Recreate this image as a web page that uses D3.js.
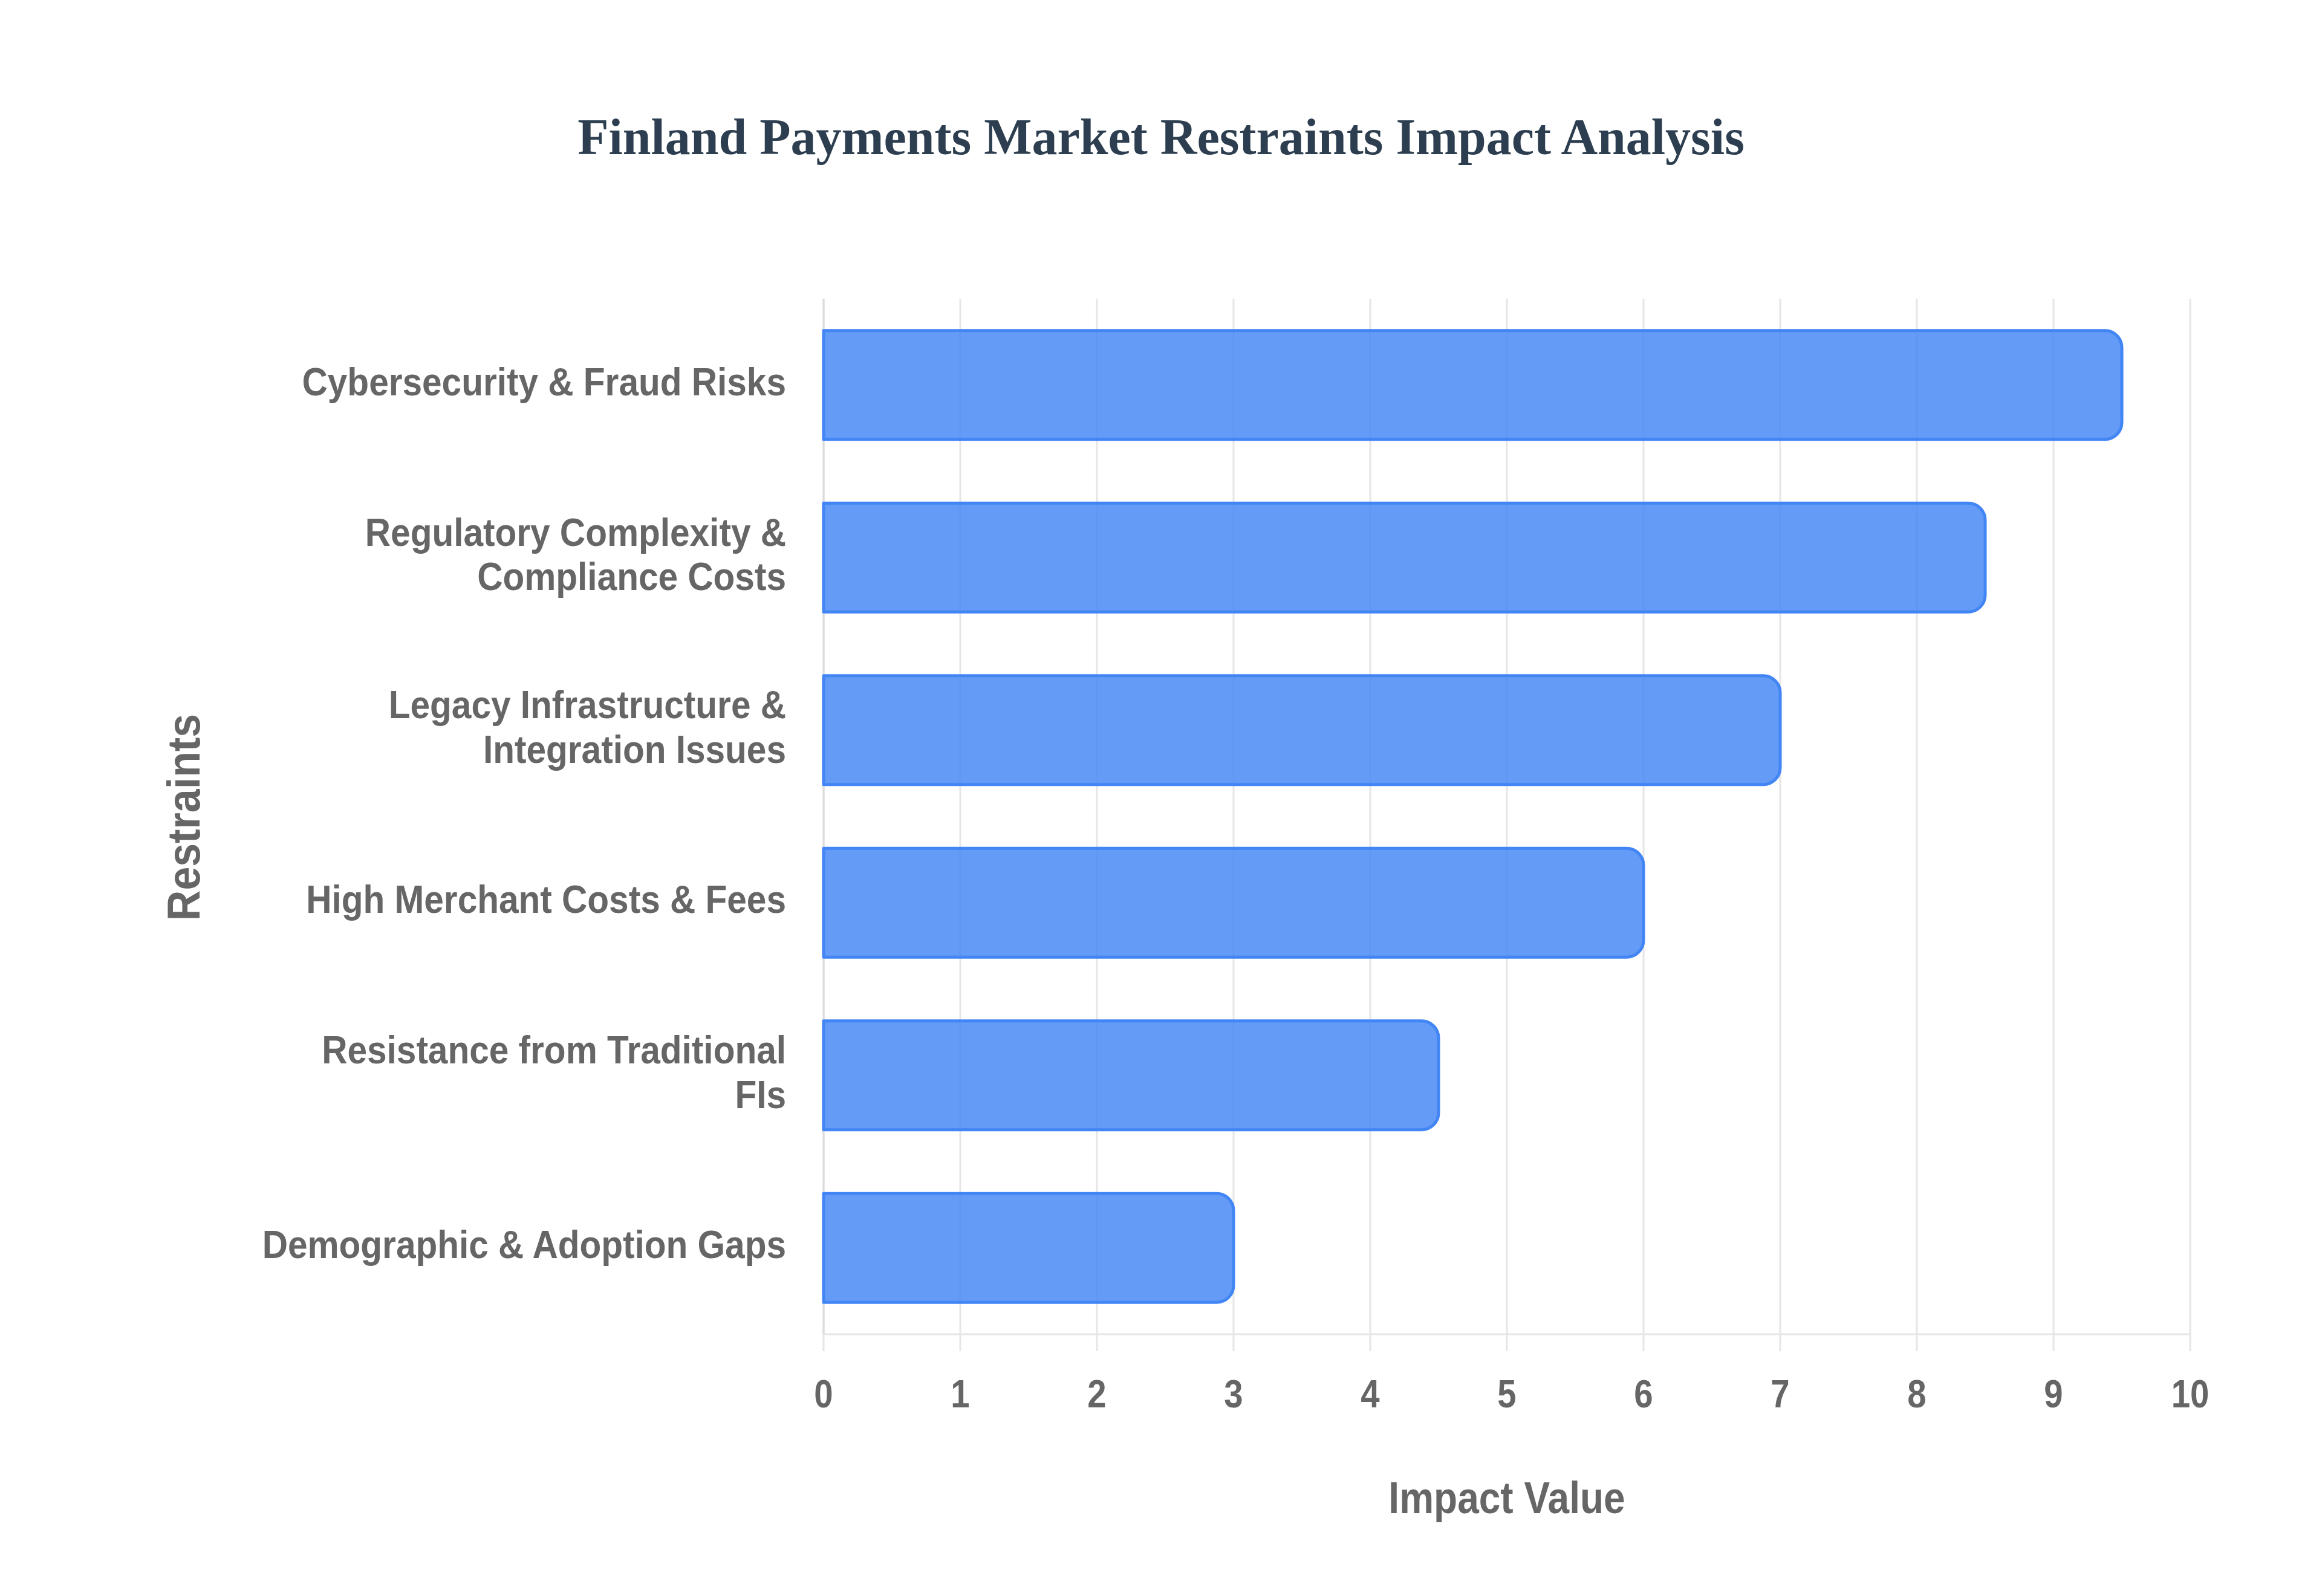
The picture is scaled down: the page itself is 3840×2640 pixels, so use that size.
<!DOCTYPE html>
<html>
<head>
<meta charset="utf-8">
<script src="https://cdn.jsdelivr.net/npm/d3@7"></script>
<style>
  html, body { margin: 0; padding: 0; background: #ffffff; }
  svg { display: block; }
</style>
</head>
<body>
<svg id="chart" width="3840" height="2640"></svg>
<script>
// ---- data ----
const restraints = [
  "Cybersecurity & Fraud Risks",
  "Regulatory Complexity & Compliance Costs",
  "Legacy Infrastructure & Integration Issues",
  "High Merchant Costs & Fees",
  "Resistance from Traditional FIs",
  "Demographic & Adoption Gaps"
];
const restraintLabelLines = [
  ["Cybersecurity & Fraud Risks"],
  ["Regulatory Complexity &", "Compliance Costs"],
  ["Legacy Infrastructure &", "Integration Issues"],
  ["High Merchant Costs & Fees"],
  ["Resistance from Traditional", "FIs"],
  ["Demographic & Adoption Gaps"]
];
const impactValues = [9.5, 8.5, 7, 6, 4.5, 3];
const xTickValues = [0, 1, 2, 3, 4, 5, 6, 7, 8, 9, 10];
const chartTitle = "Finland Payments Market Restraints Impact Analysis";
const xAxisTitle = "Impact Value";
const yAxisTitle = "Restraints";

// ---- layout ----
const W = 3840, H = 2640;
const plot = { left: 1362, right: 3622, top: 494, bottom: 2207 };
const labelScaleX = 0.915;
const tickScaleX = 0.88;
const textGray = "#666666";
const gridColor = "#e6e6e6";

const svg = d3.select("#chart");

const x = d3.scaleLinear().domain([0, 10]).range([plot.left, plot.right]);
const y = d3.scaleBand().domain(restraints).range([plot.top, plot.bottom])
  .paddingInner(0.37).paddingOuter(0.185);

// title
svg.append("text")
  .attr("x", W / 2).attr("y", 255)
  .attr("text-anchor", "middle")
  .attr("font-family", "'Liberation Serif', 'Times New Roman', serif")
  .attr("font-weight", "bold")
  .attr("font-size", 84)
  .attr("fill", "#2c3e50")
  .text(chartTitle);

// vertical grid lines (extend below axis as ticks)
svg.append("g").selectAll("line").data(xTickValues).join("line")
  .attr("x1", d => x(d)).attr("x2", d => x(d))
  .attr("y1", plot.top).attr("y2", plot.bottom + 28)
  .attr("stroke", gridColor).attr("stroke-width", 3);

// axis border lines
svg.append("line")
  .attr("x1", plot.left).attr("x2", plot.right)
  .attr("y1", plot.bottom).attr("y2", plot.bottom)
  .attr("stroke", gridColor).attr("stroke-width", 3);
svg.append("line")
  .attr("x1", plot.left).attr("x2", plot.left)
  .attr("y1", plot.top).attr("y2", plot.bottom)
  .attr("stroke", "#dcdcdc").attr("stroke-width", 3);

// bars with rounded right end
const radius = 28;
function barPath(x0, x1, y0, h) {
  const r = Math.min(radius, (x1 - x0) / 2, h / 2);
  const p = d3.path();
  p.moveTo(x0, y0);
  p.lineTo(x1 - r, y0);
  p.arcTo(x1, y0, x1, y0 + r, r);
  p.lineTo(x1, y0 + h - r);
  p.arcTo(x1, y0 + h, x1 - r, y0 + h, r);
  p.lineTo(x0, y0 + h);
  p.closePath();
  return p.toString();
}
svg.append("g").selectAll("path").data(restraints).join("path")
  .attr("d", (d, i) => barPath(x(0), x(impactValues[i]), y(d), y.bandwidth()))
  .attr("fill", "rgba(66,133,244,0.82)")
  .attr("stroke", "#4285f4")
  .attr("stroke-width", 5)
  .attr("stroke-linejoin", "round");

// x tick labels
const xt = svg.append("g");
xTickValues.forEach(v => {
  xt.append("text")
    .attr("transform", `translate(${x(v)},2305) scale(${tickScaleX},1)`)
    .attr("text-anchor", "middle")
    .attr("dy", "0.36em")
    .attr("font-family", "'Liberation Sans', Arial, sans-serif")
    .attr("font-weight", "bold")
    .attr("font-size", 64)
    .attr("fill", textGray)
    .text(String(v));
});

// y category labels
const lineGap = 73.5;
const yl = svg.append("g");
restraints.forEach((c, i) => {
  const lines = restraintLabelLines[i];
  const cy = y(c) + y.bandwidth() / 2 - 6;
  const g = yl.append("g")
    .attr("transform", `translate(${plot.left - 62},${cy}) scale(${labelScaleX},1)`);
  lines.forEach((ln, j) => {
    g.append("text")
      .attr("x", 0)
      .attr("y", (j - (lines.length - 1) / 2) * lineGap)
      .attr("dy", "0.36em")
      .attr("text-anchor", "end")
      .attr("font-family", "'Liberation Sans', Arial, sans-serif")
      .attr("font-weight", "bold")
      .attr("font-size", 64)
      .attr("fill", textGray)
      .text(ln);
  });
});

// x axis title
svg.append("text")
  .attr("transform", `translate(${(plot.left + plot.right) / 2},2503) scale(0.865,1)`)
  .attr("text-anchor", "middle")
  .attr("font-family", "'Liberation Sans', Arial, sans-serif")
  .attr("font-weight", "bold")
  .attr("font-size", 74)
  .attr("fill", textGray)
  .text(xAxisTitle);

// y axis title
svg.append("text")
  .attr("transform", `translate(330,1352) rotate(-90) scale(1,1.08)`)
  .attr("text-anchor", "middle")
  .attr("font-family", "'Liberation Sans', Arial, sans-serif")
  .attr("font-weight", "bold")
  .attr("font-size", 70)
  .attr("fill", textGray)
  .text(yAxisTitle);
</script>
</body>
</html>
